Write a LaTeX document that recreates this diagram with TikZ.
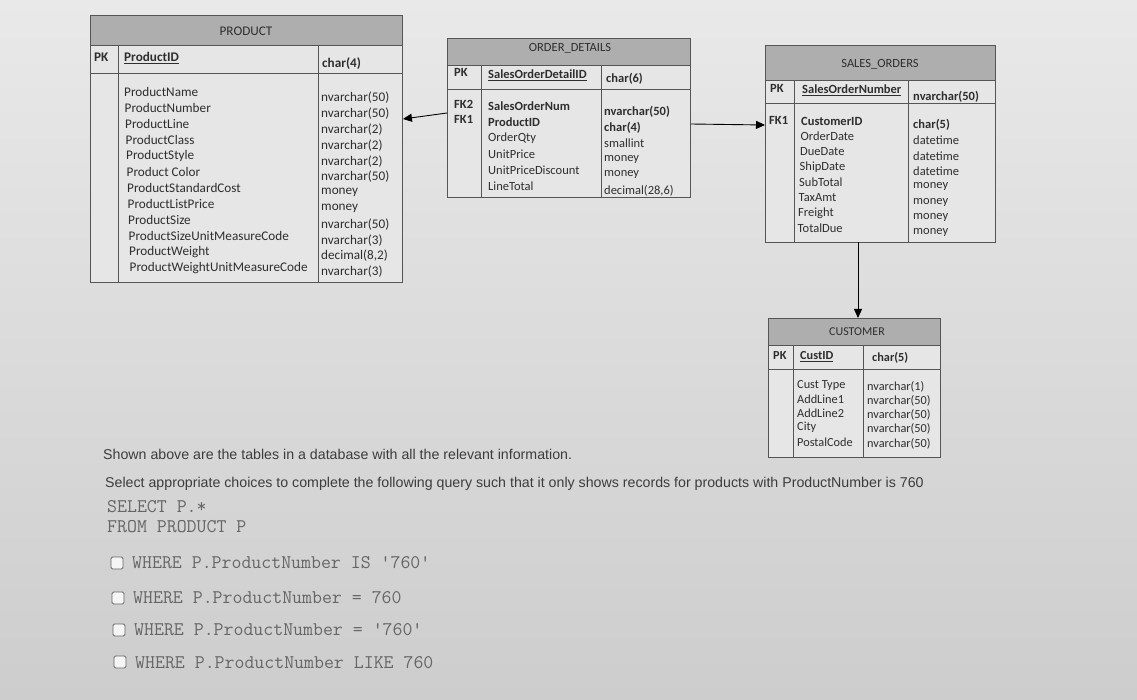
\documentclass[tikz,border=0pt]{standalone}
\usepackage{fontspec}
\setmainfont{Carlito}
\newfontfamily\qfont{Liberation Sans}
\usetikzlibrary{arrows.meta}
\definecolor{bgtop}{HTML}{E9E9E9}
\definecolor{bgbot}{HTML}{CDCDCD}
\definecolor{hdrc}{HTML}{AEAEAE}
\definecolor{bodyc}{HTML}{E6E6E6}
\definecolor{linec}{HTML}{555555}
\definecolor{txt}{HTML}{2E2E2E}
\definecolor{qtxt}{HTML}{3C3C3C}
\definecolor{ctxt}{HTML}{666666}
\tikzset{
  tbl/.style={draw=linec, line width=0.9pt, fill=bodyc, inner sep=0pt, anchor=north west},
  hdr/.style={fill=hdrc},
  sep/.style={draw=linec, line width=0.8pt},
  ttl/.style={inner sep=0pt, text=txt, font=\fontsize{12.5}{14}\selectfont},
  fld/.style={anchor=west, inner sep=0pt, text=txt, font=\fontsize{12.5}{14}\selectfont},
  pfld/.style={anchor=west, inner sep=0pt, text=txt, font=\fontsize{13.2}{15}\selectfont},
  sfld/.style={anchor=west, inner sep=0pt, text=txt, font=\fontsize{12.3}{13}\selectfont},
  rel/.style={draw=black, line width=0.9pt, -{Triangle[length=9pt,width=8pt]}},
  qtext/.style={anchor=west, inner sep=0pt, text=qtxt, font=\qfont\fontsize{14.2}{16}\selectfont},
  code/.style={anchor=west, inner sep=0pt, text=ctxt, font=\ttfamily\fontsize{19.3}{21}\selectfont},
  cbox/.style={draw=ctxt, line width=0.9pt, rounded corners=1.5pt, fill=white!92!gray, minimum width=12pt, minimum height=12pt, inner sep=0pt}
}
\begin{document}
\begin{tikzpicture}[x=1pt,y=-1pt]
\useasboundingbox (0,0) rectangle (1137,700);
\shade[top color=bgtop, bottom color=bgbot] (0,0) rectangle (1137,700);

% ---------- PRODUCT ----------
\node[tbl, minimum width=312pt, minimum height=267pt] (prod) at (90,15) {};
\fill[hdr] (90,15) rectangle (402,45);
\draw[sep] (90,15) rectangle (402,282);
\draw[sep] (90,45) -- (402,45);
\draw[sep] (90,73) -- (402,73);
\draw[sep] (118,45) -- (118,282);
\draw[sep] (318,45) -- (318,282);
\node[ttl, font=\fontsize{13.2}{15}\selectfont] (prodt) at (246,31) {PRODUCT};
\node[pfld] (prodpk) at (94,57) {\textbf{PK}};
\node[pfld] (prodid) at (124,58) {\textbf{\underline{ProductID}}};
\node[pfld] (prodidt) at (322,64) {\textbf{char(4)}};
\foreach \n [count=\i from 0] in {ProductName,ProductNumber,ProductLine,ProductClass,ProductStyle,Product Color,ProductStandardCost,ProductListPrice,ProductSize,ProductSizeUnitMeasureCode,ProductWeight,ProductWeightUnitMeasureCode}
  \node[pfld] (pf\i) at ({124+0.5*\i},{92+16*\i}) {\n};
\foreach \t [count=\i from 0] in {nvarchar(50),nvarchar(50),nvarchar(2),nvarchar(2),nvarchar(2),nvarchar(50),money,money,nvarchar(50),nvarchar(3),{decimal(8,2)},nvarchar(3)}
  \node[pfld] (pt\i) at (321,{98+15.8*\i}) {\t};

% ---------- ORDER_DETAILS ----------
\node[tbl, minimum width=243pt, minimum height=159pt] (od) at (447,38) {};
\fill[hdr] (447,38) rectangle (690,65);
\draw[sep] (447,38) rectangle (690,197);
\draw[sep] (447,65) -- (690,65);
\draw[sep] (447,89) -- (690,89);
\draw[sep] (481,65) -- (481,197);
\draw[sep] (601,65) -- (601,197);
\node[ttl] (odt) at (570,48) {ORDER\_DETAILS};
\node[fld] (odpk) at (454,72) {\textbf{PK}};
\node[fld] (odid) at (488,75) {\textbf{\underline{SalesOrderDetailID}}};
\node[fld] (odidt) at (606,79) {\textbf{char(6)}};
\node[fld] (odfk2) at (454,104) {\textbf{FK2}};
\node[fld] (odfk1) at (454,119) {\textbf{FK1}};
\node[fld] (of0) at (488,106) {\textbf{SalesOrderNum}};
\node[fld] (of1) at (488,122) {\textbf{ProductID}};
\foreach \n [count=\i from 2] in {OrderQty,UnitPrice,UnitPriceDiscount,LineTotal}
  \node[fld] (of\i) at (488,{106+16*\i}) {\n};
\node[fld] (ot0) at (604,112) {\textbf{nvarchar(50)}};
\node[fld] (ot1) at (604,127.5) {\textbf{char(4)}};
\foreach \t [count=\i from 2] in {smallint,money,money,{decimal(28,6)}}
  \node[fld] (ot\i) at (604,{112+15.7*\i}) {\t};

% ---------- SALES_ORDERS ----------
\node[tbl, minimum width=230pt, minimum height=197pt] (so) at (765,45) {};
\fill[hdr] (765,45) rectangle (995,80);
\draw[sep] (765,45) rectangle (995,242);
\draw[sep] (765,80) -- (995,80);
\draw[sep] (765,103) -- (995,103);
\draw[sep] (794,80) -- (794,242);
\draw[sep] (908,80) -- (908,242);
\node[ttl] (sot) at (880,64) {SALES\_ORDERS};
\node[fld] (sopk) at (770,88) {\textbf{PK}};
\node[fld] (soid) at (802,90) {\textbf{\underline{SalesOrderNumber}}};
\node[fld] (soidt) at (913,97) {\textbf{nvarchar(50)}};
\node[fld] (sofk1) at (769,120) {\textbf{FK1}};
\node[fld] (sf0) at (801,121) {\textbf{CustomerID}};
\foreach \n [count=\i from 1] in {OrderDate,DueDate,ShipDate,SubTotal,TaxAmt,Freight,TotalDue}
  \node[fld] (sf\i) at ({801-0.5*\i},{121+15.3*\i}) {\n};
\node[fld] (st0) at (913,125) {\textbf{char(5)}};
\foreach \t [count=\i from 1] in {datetime,datetime,datetime,money,money,money,money}
  \node[fld] (st\i) at (913,{125+15.4*\i}) {\t};

% ---------- CUSTOMER ----------
\node[tbl, minimum width=172pt, minimum height=139pt] (cu) at (768,318) {};
\fill[hdr] (768,318) rectangle (940,345);
\draw[sep] (768,318) rectangle (940,457);
\draw[sep] (768,345) -- (940,345);
\draw[sep] (768,369) -- (940,369);
\draw[sep] (793,345) -- (793,457);
\draw[sep] (863,345) -- (863,457);
\node[ttl, font=\fontsize{12}{13}\selectfont] (cut) at (857,332) {CUSTOMER};
\node[sfld] (cupk) at (773,356) {\textbf{PK}};
\node[sfld] (cuid) at (800,357) {\textbf{\underline{CustID}}};
\node[sfld] (cuidt) at (872,358) {\textbf{char(5)}};
\foreach \n [count=\i from 0] in {Cust Type,AddLine1,AddLine2,City,PostalCode}
  \node[sfld] (cf\i) at (797,{385+14.2*\i}) {\n};
\foreach \t [count=\i from 0] in {nvarchar(1),nvarchar(50),nvarchar(50),nvarchar(50),nvarchar(50)}
  \node[sfld] (ct\i) at (867,{387+14.1*\i}) {\t};

% ---------- relationships ----------
\coordinate (r1a) at (od.west |- 0,113);
\coordinate (r1b) at (prod.east |- 0,119);
\draw[rel] (r1a) -- (r1b);
\coordinate (r2a) at (od.east |- 0,124);
\coordinate (r2b) at (so.west |- 0,125);
\draw[rel] (r2a) -- (r2b);
\coordinate (r3a) at (858,242);
\coordinate (r3b) at (858,318);
\draw[rel] (r3a) -- (r3b);

% ---------- question ----------
\node[qtext] (q1) at (103,454) {Shown above are the tables in a database with all the relevant information.};
\node[qtext] (q2) at (105,484) {Select appropriate choices to complete the following query such that it only shows records for products with ProductNumber is 760};
\node[code] (c1) at (107,507) {SELECT P.*};
\node[code] (c2) at (107,527) {FROM PRODUCT P};
\node[cbox] (b1) at (117,563) {};
\node[cbox] (b2) at (118,598) {};
\node[cbox] (b3) at (119,630) {};
\node[cbox] (b4) at (120,662) {};
\node[code] (o1) at (132,563) {WHERE P.ProductNumber IS '760'};
\node[code] (o2) at (133,598) {WHERE P.ProductNumber = 760};
\node[code] (o3) at (134,630) {WHERE P.ProductNumber = '760'};
\node[code] (o4) at (135,663) {WHERE P.ProductNumber LIKE 760};
\end{tikzpicture}
\end{document}
